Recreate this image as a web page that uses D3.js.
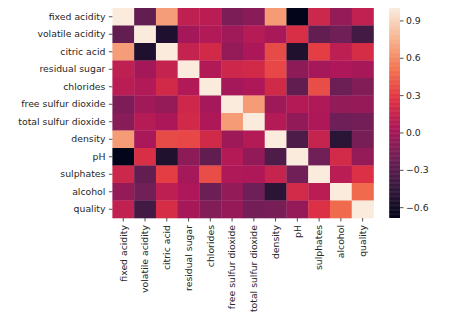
<!DOCTYPE html>
<html>
<head>
<meta charset="utf-8">
<script src="https://cdn.jsdelivr.net/npm/d3@7"></script>
<style>
  body { margin: 0; background: #fff; }
  text { font-family: "DejaVu Sans", sans-serif; font-size: 9.3px; fill: #262626; }
  .tick line { stroke: #262626; stroke-width: 0.8; }
</style>
</head>
<body>
<div class="heat"></div>
<script>
var svgWidth = 474;
var svgHeight = 325;

// wine features
var labels = ["fixed acidity", "volatile acidity", "citric acid", "residual sugar",
  "chlorides", "free sulfur dioxide", "total sulfur dioxide", "density", "pH",
  "sulphates", "alcohol", "quality"];

// correlation rows
var fixedAcidity   = [1.000, -0.256, 0.672, 0.115, 0.094, -0.154, -0.113, 0.668, -0.683, 0.183, -0.062, 0.124];
var volatileAcid   = [-0.256, 1.000, -0.552, 0.002, 0.061, -0.011, 0.076, 0.022, 0.235, -0.261, -0.202, -0.391];
var citricAcid     = [0.672, -0.552, 1.000, 0.144, 0.204, -0.061, 0.036, 0.365, -0.542, 0.313, 0.110, 0.226];
var residualSugar  = [0.115, 0.002, 0.144, 1.000, 0.056, 0.187, 0.203, 0.355, -0.086, 0.006, 0.042, 0.014];
var chlorides      = [0.094, 0.061, 0.204, 0.056, 1.000, 0.006, 0.047, 0.201, -0.265, 0.371, -0.221, -0.129];
var freeSulfur     = [-0.154, -0.011, -0.061, 0.187, 0.006, 1.000, 0.668, -0.022, 0.070, 0.052, -0.069, -0.051];
var totalSulfur    = [-0.113, 0.076, 0.036, 0.203, 0.047, 0.668, 1.000, 0.071, -0.066, 0.043, -0.206, -0.185];
var density        = [0.668, 0.022, 0.365, 0.355, 0.201, -0.022, 0.071, 1.000, -0.342, 0.149, -0.496, -0.175];
var pH             = [-0.683, 0.235, -0.542, -0.086, -0.265, 0.070, -0.066, -0.342, 1.000, -0.197, 0.206, -0.058];
var sulphates      = [0.183, -0.261, 0.313, 0.006, 0.371, 0.052, 0.043, 0.149, -0.197, 1.000, 0.094, 0.251];
var alcohol        = [-0.062, -0.202, 0.110, 0.042, -0.221, -0.069, -0.206, -0.496, 0.206, 0.094, 1.000, 0.476];
var quality        = [0.124, -0.391, 0.226, 0.014, -0.129, -0.051, -0.185, -0.175, -0.058, 0.251, 0.476, 1.000];

var rows = [fixedAcidity, volatileAcid, citricAcid, residualSugar, chlorides, freeSulfur,
  totalSulfur, density, pH, sulphates, alcohol, quality];

var colorbarTicks = [-0.6, -0.3, 0.0, 0.3, 0.6, 0.9];

// rocket-ish colormap
var rocket = ["#03051a", "#35193e", "#701f57", "#ad1759", "#e13342", "#f37651", "#f6b48f", "#faebdd"];

var vmin = d3.min(rows, r => d3.min(r));
var vmax = 1;

var color = d3.scaleLinear()
    .domain(d3.range(rocket.length).map(i => vmin + (vmax - vmin) * i / (rocket.length - 1)))
    .range(rocket)
    .interpolate(d3.interpolateRgb);

var svg = d3.select(".heat")
    .append("svg")
    .attr("width", svgWidth)
    .attr("height", svgHeight);

var plotTop = 8, plotBottom = 218, plotLeft = 112.4, plotRight = 373.5;

var x = d3.scaleBand().domain(labels).range([plotLeft, plotRight]);
var y = d3.scaleBand().domain(labels).range([plotTop, plotBottom]);

// cells
var cells = [];
rows.forEach(function(r, i) {
    r.forEach(function(v, j) {
        cells.push({row: labels[i], col: labels[j], value: v});
    });
});

svg.append("g").selectAll("rect")
    .data(cells)
    .enter()
    .append("rect")
    .attr("x", d => x(d.col))
    .attr("y", d => y(d.row))
    .attr("width", x.bandwidth() + 0.3)
    .attr("height", y.bandwidth() + 0.3)
    .attr("fill", d => color(d.value));

// axes
var yAxis = svg.append("g")
    .attr("transform", `translate(${plotLeft}, 0)`)
    .call(d3.axisLeft(y).tickSize(3.5).tickPadding(3.5));
yAxis.select(".domain").remove();

var xAxis = svg.append("g")
    .attr("transform", `translate(0, ${plotBottom})`)
    .call(d3.axisBottom(x).tickSize(3.5).tickPadding(2.5));
xAxis.select(".domain").remove();
xAxis.selectAll("text")
    .attr("text-anchor", "end")
    .attr("transform", "rotate(-90)")
    .attr("x", -7)
    .attr("y", 0)
    .attr("dy", "0.35em");

// colorbar
var cbLeft = 389.3, cbWidth = 10.7;
var cbScale = d3.scaleLinear().domain([vmin, vmax]).range([217.5, plotTop]);

var steps = d3.range(0, 256);
svg.append("g").selectAll("rect")
    .data(steps)
    .enter()
    .append("rect")
    .attr("x", cbLeft)
    .attr("y", d => cbScale(vmin + (vmax - vmin) * (d + 1) / 256))
    .attr("width", cbWidth)
    .attr("height", (cbScale(vmin) - cbScale(vmax)) / 256 + 0.5)
    .attr("fill", d => color(vmin + (vmax - vmin) * (d + 0.5) / 256));

var cbAxis = svg.append("g")
    .attr("transform", `translate(${cbLeft + cbWidth}, 0)`)
    .call(d3.axisRight(cbScale).tickValues(colorbarTicks).tickSize(3.5).tickPadding(2.5)
        .tickFormat(d => d3.format(".1f")(d).replace("-", "\u2212")));
cbAxis.select(".domain").remove();
</script>
</body>
</html>
